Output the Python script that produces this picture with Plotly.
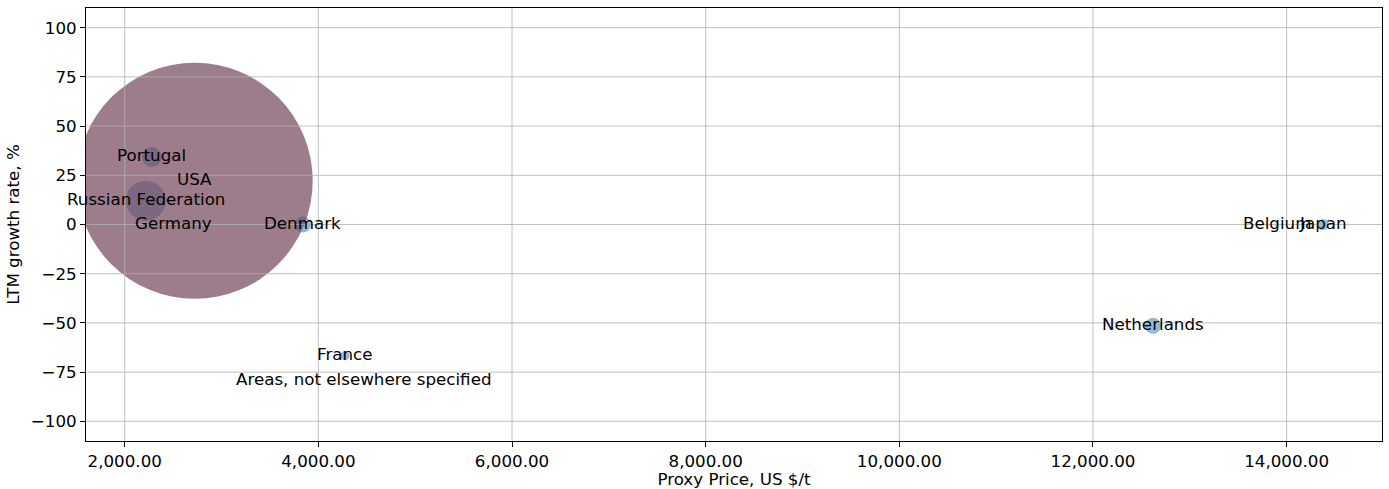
import plotly.graph_objects as go

countries = ['Belgium', 'Japan', 'Netherlands', 'France', 'Areas, not elsewhere specified',
             'Denmark', 'Germany', 'Portugal', 'Russian Federation', 'USA']
proxy_price = [13900, 14376, 12620, 4273, 4469, 3839, 2506, 2279, 2217, 2723]
growth_rate = [0.0, 0.0, -51.5, -66.7, -79.3, 0.0, 0.0, 34.3, 12.1, 22.2]
bubble_size = [3, 11, 16, 9, 1, 16, 6, 20, 40, 236]

x_ticks = [2000, 4000, 6000, 8000, 10000, 12000, 14000]
y_ticks = [-100, -75, -50, -25, 0, 25, 50, 75, 100]

small_color = 'rgba(31,119,180,0.5)'
big_color = 'rgba(116,68,91,0.7)'
colors = [big_color if s > 100 else small_color for s in bubble_size]

font = 'DejaVu Sans'
fsize = 16.7

fig = go.Figure()
# small bubbles first, the big one on top of them
for cx, cy, s, c in zip(proxy_price, growth_rate, bubble_size, colors):
    fig.add_trace(go.Scatter(x=[cx], y=[cy], mode='markers',
                             marker=dict(size=s, color=c, line=dict(width=0)),
                             showlegend=False, hoverinfo='skip'))

# grid drawn above the bubbles like matplotlib does
for v in x_ticks:
    fig.add_shape(type='line', xref='x', yref='paper', x0=v, x1=v, y0=0, y1=1,
                  line=dict(color='#b0b0b0', width=0.8), layer='above')
for v in y_ticks:
    fig.add_shape(type='line', xref='paper', yref='y', x0=0, x1=1, y0=v, y1=v,
                  line=dict(color='#b0b0b0', width=0.8), layer='above')

for name, cx, cy in zip(countries, proxy_price, growth_rate):
    fig.add_annotation(x=cx, y=cy, text=name, showarrow=False, yshift=1.5,
                       font=dict(family=font, size=fsize, color='black'),
                       xanchor='center', yanchor='middle')

fig.update_xaxes(
    title_text='Proxy Price, US $/t',
    title_font=dict(family=font, size=fsize, color='black'),
    title_standoff=4,
    range=[1600, 14985],
    tickvals=x_ticks,
    tickformat=',.2f',
    tickfont=dict(family=font, size=fsize, color='black'),
    ticks='outside', ticklen=5, tickcolor='black',
    showgrid=False, zeroline=False,
    showline=True, linecolor='black', linewidth=1, mirror=True,
    automargin=False
)
fig.update_yaxes(
    title_text='LTM growth rate, %',
    title_font=dict(family=font, size=fsize, color='black'),
    title_standoff=6,
    range=[-110, 110],
    tickvals=y_ticks,
    tickfont=dict(family=font, size=fsize, color='black'),
    ticks='outside', ticklen=5, tickcolor='black',
    showgrid=False, zeroline=False,
    showline=True, linecolor='black', linewidth=1, mirror=True,
    automargin=False
)
fig.update_layout(
    width=1389,
    height=489,
    margin=dict(l=86, r=7, t=8, b=48),
    plot_bgcolor='white',
    paper_bgcolor='white',
    font_family=font
)
# drop the default page margin so the figure sits at the top-left corner
fig.write_html('out.html', config={'displayModeBar': False},
               post_script="document.body.style.margin='0';")
